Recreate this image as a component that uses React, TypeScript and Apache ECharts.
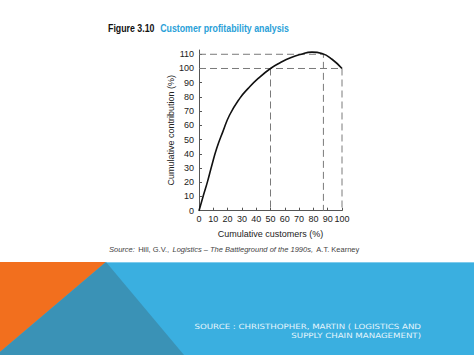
import React, { useEffect, useRef } from "react";
import * as echarts from "echarts";

const customersPct = [0, 3, 6, 9, 12.4, 16.7, 21.4, 28.5, 34.4, 41.4, 50, 57, 64, 71, 79, 86, 93, 100];
const contributionPct = [0, 10.5, 20.6, 32, 43.9, 55.6, 67.3, 79, 86, 93, 100, 104.2, 107.6, 109.9, 111.5, 110.5, 106.5, 100];
const yTicks = [0, 10, 20, 30, 40, 50, 60, 70, 80, 90, 100, 110];
const xTicks = [0, 10, 20, 30, 40, 50, 60, 70, 80, 90, 100];
const guide110 = [[0, 110], [87, 110], [87, 0]];
const guide100 = [[0, 100], [100, 100], [100, 0]];
const guide50 = [[50, 100], [50, 0]];

export default function App() {
  const ref = useRef<HTMLDivElement>(null);
  useEffect(() => {
    if (!ref.current) return;
    const chart = echarts.init(ref.current, null, { renderer: "svg" });
    const dashed = (data: number[][]) => ({
      type: "line",
      data,
      symbol: "none",
      silent: true,
      lineStyle: { color: "#7a7a7a", width: 1, type: [7, 4] },
      z: 1,
    });
    chart.setOption({
      animation: false,
      backgroundColor: "#ffffff",
      grid: { left: 199, right: 132, top: 50, bottom: 144.3 },
      xAxis: {
        type: "value",
        min: 0,
        max: 100,
        interval: 10,
        splitLine: { show: false },
        axisLine: { lineStyle: { color: "#555", width: 1 } },
        axisTick: { inside: true, length: 3, lineStyle: { color: "#555" }, customValues: xTicks },
        axisLabel: { color: "#222", fontSize: 9, fontFamily: "Liberation Sans", margin: 4, customValues: xTicks },
        name: "Cumulative customers (%)",
        nameLocation: "middle",
        nameGap: 19,
        nameTextStyle: { color: "#222", fontSize: 9, fontFamily: "Liberation Sans" },
      },
      yAxis: {
        type: "value",
        min: 0,
        max: 113,
        interval: 10,
        splitLine: { show: false },
        axisLine: { lineStyle: { color: "#555", width: 1 } },
        axisTick: { inside: true, length: 3, lineStyle: { color: "#555" }, customValues: yTicks },
        axisLabel: { color: "#222", fontSize: 9, fontFamily: "Liberation Sans", margin: 5, customValues: yTicks },
        name: "Cumulative contribution (%)",
        nameLocation: "middle",
        nameGap: 24,
        nameRotate: 90,
        nameTextStyle: { color: "#222", fontSize: 9, fontFamily: "Liberation Sans" },
      },
      series: [
        dashed(guide110),
        dashed(guide100),
        dashed(guide50),
        {
          type: "line",
          data: customersPct.map((x, i) => [x, contributionPct[i]]),
          symbol: "none",
          smooth: 0.5,
          lineStyle: { color: "#111", width: 1.6 },
          z: 3,
        },
      ],
      graphic: [
        {
          type: "group",
          x: 108,
          y: 22,
          scaleX: 0.84,
          children: [
            {
              type: "text",
              x: 0,
              y: 0,
              style: {
                text: "{a|Figure 3.10}  {b|Customer profitability analysis}",
                rich: {
                  a: { fontSize: 10.5, fontWeight: "bold", fill: "#111", fontFamily: "Liberation Sans" },
                  b: { fontSize: 10.5, fontWeight: "bold", fill: "#2a9fd8", fontFamily: "Liberation Sans" },
                },
              },
            },
          ],
        },
        {
          type: "text",
          left: 109,
          top: 243,
          style: {
            text: "{i|Source:} {n|Hill, G.V.,} {i|Logistics – The Battleground of the 1990s,} {n|A.T. Kearney}",
            rich: {
              i: { fontSize: 7.5, fontStyle: "italic", fill: "#444", fontFamily: "Liberation Sans" },
              n: { fontSize: 7.5, fill: "#444", fontFamily: "Liberation Sans" },
            },
          },
        },
        { type: "rect", shape: { x: 0, y: 262, width: 474, height: 93 }, style: { fill: "#3aafe0" } },
        { type: "rect", shape: { x: 0, y: 262, width: 474, height: 1 }, style: { fill: "#7fcbec" } },
        { type: "polygon", shape: { points: [[0, 262], [106, 262], [0, 352]] }, style: { fill: "#f26f1e" } },
        { type: "polygon", shape: { points: [[106, 262], [184, 355], [0, 355], [0, 352]] }, style: { fill: "#3a92b6" } },
        {
          type: "group",
          x: 421,
          y: 323,
          scaleX: 1.2,
          children: [
            {
              type: "text",
              x: 0,
              y: 0,
              style: {
                text: "SOURCE : CHRISTHOPHER, MARTIN ( LOGISTICS AND",
                align: "right",
                fontSize: 7.2,
                fill: "#e6f5fc",
                fontFamily: "DejaVu Sans",
              },
            },
            {
              type: "text",
              x: 0,
              y: 9.5,
              style: {
                text: "SUPPLY CHAIN MANAGEMENT)",
                align: "right",
                fontSize: 7.2,
                fill: "#e6f5fc",
                fontFamily: "DejaVu Sans",
              },
            },
          ],
        },
      ],
    });
    return () => chart.dispose();
  }, []);
  return (
    <div
      ref={ref}
      style={{ position: "fixed", left: 0, top: 0, width: 474, height: 355, background: "#fff" }}
    />
  );
}
